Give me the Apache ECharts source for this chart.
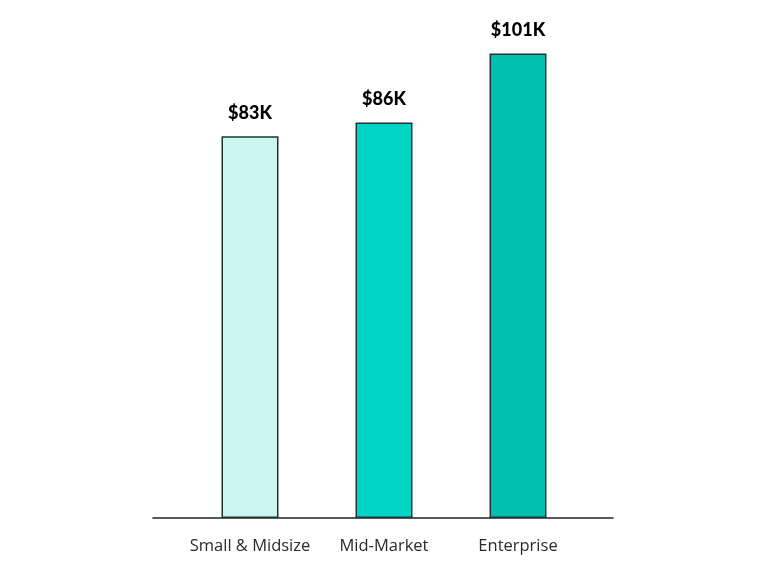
<!DOCTYPE html>
<html lang="en">
<head>
    <meta charset="UTF-8">
    <title>Average deal size</title>
    <script src="https://cdn.jsdelivr.net/npm/echarts@6/dist/echarts.min.js"></script>
    <style>
        html, body { margin: 0; padding: 0; background: #fff; }
    </style>
</head>
<body>
<div id="chart" style="width:768px;height:576px;"></div>
<script>
    var categories = ['Small & Midsize', 'Mid-Market', 'Enterprise'];
    var values = [83, 86, 101];
    var barColors = ['#cdf5f0', '#00d5c5', '#00bfb1'];

    var chart = echarts.init(document.getElementById('chart'));
    chart.setOption({
        animation: false,
        grid: [
            // bars
            { left: 183, right: 183, top: 12, bottom: 58 },
            // wider baseline
            { left: 153, right: 155, top: 12, bottom: 58 }
        ],
        xAxis: [
            {
                type: 'category',
                gridIndex: 0,
                data: categories,
                axisLine: { show: false },
                axisTick: { show: false },
                axisLabel: {
                    interval: 0,
                    color: '#2a2a2a',
                    fontSize: 16.5,
                    fontFamily: 'Open Sans',
                    margin: 20
                }
            },
            {
                type: 'value',
                gridIndex: 1,
                min: 0, max: 1,
                axisLine: { show: true, onZero: false, lineStyle: { color: '#222', width: 1.5 } },
                axisTick: { show: false },
                axisLabel: { show: false },
                splitLine: { show: false }
            }
        ],
        yAxis: [
            {
                type: 'value',
                gridIndex: 0,
                min: 0,
                max: 110,
                show: false
            },
            {
                type: 'value',
                gridIndex: 1,
                min: 0, max: 1,
                show: false
            }
        ],
        series: [{
            type: 'bar',
            xAxisIndex: 0,
            yAxisIndex: 0,
            barWidth: 57,
            data: values.map(function (v, i) {
                return {
                    value: v,
                    itemStyle: { color: barColors[i] }
                };
            }),
            itemStyle: {
                borderColor: '#1d3535',
                borderWidth: 1.5
            },
            label: {
                show: true,
                position: 'top',
                distance: 14,
                color: '#000',
                fontSize: 18,
                fontWeight: 900,
                fontFamily: 'Lato',
                formatter: function (p) { return '$' + p.value + 'K'; }
            }
        }]
    });
</script>
</body>
</html>
